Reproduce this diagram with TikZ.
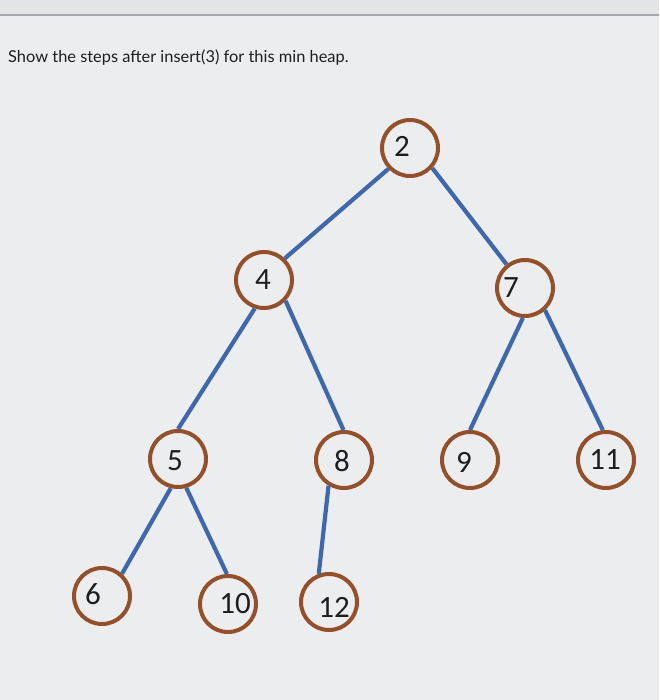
\documentclass[tikz,border=0pt]{standalone}
\usepackage{fontspec}
\setmainfont{Lato}
\newfontfamily\numfont{Carlito}
\usetikzlibrary{calc}
\definecolor{bgc}{HTML}{EBEDEF}
\definecolor{topc}{HTML}{E2E4E6}
\definecolor{rulec}{HTML}{A3A7AB}
\definecolor{edgec}{HTML}{3F68AC}
\definecolor{ringc}{HTML}{94502A}
\definecolor{txtc}{HTML}{1E1E22}
\tikzset{
  hn/.style={circle, draw=ringc, line width=4pt, fill=bgc, minimum size=56pt, inner sep=0pt},
  num/.style={font=\numfont\fontsize{31}{34}\selectfont, text=txtc, inner sep=0pt},
  link/.style={draw=edgec, line width=4.2pt},
}
\begin{document}
\begin{tikzpicture}[x=1pt,y=-1pt]
\useasboundingbox (0,0) rectangle (659,700);
\fill[bgc] (0,0) rectangle (659,700);
\fill[topc] (0,0) rectangle (659,15);
\draw[rulec, line width=1.2pt] (0,15) -- (659,15);
\node[anchor=base west, font=\fontsize{16.4}{19}\selectfont, text=txtc, inner sep=0pt] (title) at (8,63) {Show the steps after insert(3) for this min heap.};

\coordinate (c2) at (410,148);
\coordinate (c4) at (264,280);
\coordinate (c7) at (525,288);
\coordinate (c5) at (178,459);
\coordinate (c8) at (344,460);
\coordinate (c9) at (470,460);
\coordinate (c11) at (606,460);
\coordinate (c6) at (102,596);
\coordinate (c10) at (228,604);
\coordinate (c12) at (329,602);

\node[hn] (n2) at (c2) {};
\node[hn] (n4) at (c4) {};
\node[hn] (n7) at (c7) {};
\node[hn] (n5) at (c5) {};
\node[hn] (n8) at (c8) {};
\node[hn] (n9) at (c9) {};
\node[hn] (n11) at (c11) {};
\node[hn] (n6) at (c6) {};
\node[hn] (n10) at (c10) {};
\node[hn] (n12) at (c12) {};

\draw[link] (n2.224) -- (n4.46);
\draw[link] (n2.-42) -- (n7.128);
\draw[link] (n4.-108) -- (n5.90);
\draw[link] (n4.-44) -- (n8.91);
\draw[link] (n7.-94) -- (n9.90);
\draw[link] (n7.-48) -- (n11.96);
\draw[link] (n5.-104) -- (n6.48);
\draw[link] (n5.-74) -- (n10.92);
\draw[link] (n8.-121) -- (n12.110);

\node[num] (t2) at (402,146) {2};
\node[num] (t4) at (263,280) {4};
\node[num] (t7) at (511,288) {7};
\node[num] (t5) at (175,461) {5};
\node[num] (t8) at (342,461) {8};
\node[num] (t9) at (464,462) {9};
\node[num] (t11) at (605,460) {11};
\node[num] (t6) at (93,594) {6};
\node[num] (t10) at (235,604) {10};
\node[num] (t12) at (334,607) {12};
\end{tikzpicture}
\end{document}
